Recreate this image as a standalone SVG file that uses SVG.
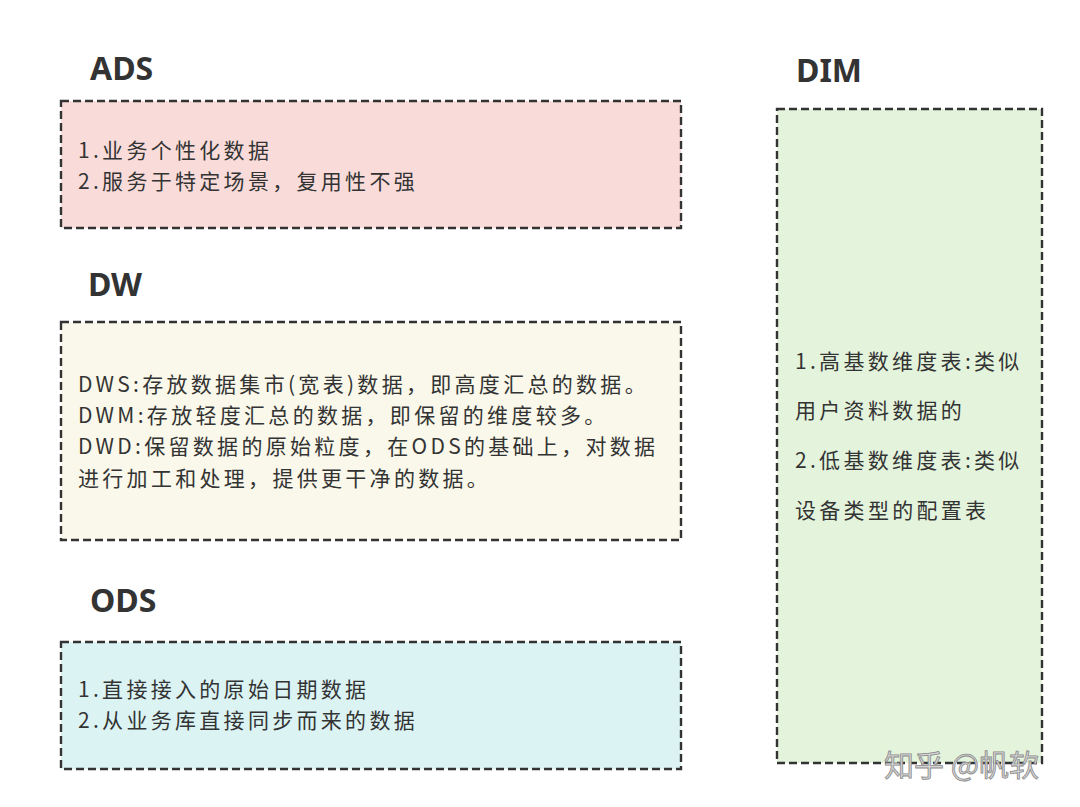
<svg xmlns="http://www.w3.org/2000/svg" width="1080" height="807" viewBox="0 0 1080 807">
<style>
.title{font-family:"Noto Sans","Open Sans","Noto Sans CJK SC",sans-serif;font-weight:bold;font-size:32px;fill:#333;}
.body{font-family:"Noto Sans CJK SC","Noto Sans",sans-serif;font-size:21px;letter-spacing:3.3px;fill:#333;}
.box{stroke:#333;stroke-width:2.4;stroke-dasharray:8 4;}
.wm{font-family:"Noto Sans CJK SC",sans-serif;font-size:30px;fill:#d4d4d4;stroke:#8a8a8a;stroke-width:0.8;}
</style>
<rect width="1080" height="807" fill="#ffffff"/>
<g id="ADS">
<text class="title" x="90" y="80">ADS</text>
<rect class="box" x="61" y="101" width="620" height="127" fill="#f9dcda"/>
<text class="body"><tspan x="78" y="158">1.业务个性化数据</tspan><tspan x="78" y="189">2.服务于特定场景，复用性不强</tspan></text>
</g>
<g id="DW">
<text class="title" x="88" y="296">DW</text>
<rect class="box" x="61" y="322" width="620" height="218" fill="#f9f8ea"/>
<text class="body"><tspan x="78" y="392">DWS:存放数据集市(宽表)数据，即高度汇总的数据。</tspan><tspan x="78" y="423">DWM:存放轻度汇总的数据，即保留的维度较多。</tspan><tspan x="78" y="454">DWD:保留数据的原始粒度，在ODS的基础上，对数据</tspan><tspan x="78" y="486">进行加工和处理，提供更干净的数据。</tspan></text>
</g>
<g id="ODS">
<text class="title" x="90" y="612">ODS</text>
<rect class="box" x="61" y="642" width="620" height="127" fill="#dcf3f3"/>
<text class="body"><tspan x="78" y="697">1.直接接入的原始日期数据</tspan><tspan x="78" y="728">2.从业务库直接同步而来的数据</tspan></text>
</g>
<g id="DIM">
<text class="title" x="796" y="82">DIM</text>
<rect class="box" x="777" y="109" width="265" height="654" fill="#e4f4dc"/>
<text class="body"><tspan x="795" y="369">1.高基数维度表:类似</tspan><tspan x="795" y="418">用户资料数据的</tspan><tspan x="795" y="468">2.低基数维度表:类似</tspan><tspan x="795" y="518">设备类型的配置表</tspan></text>
</g>
<g id="connectors"></g>
<text class="wm" x="884" y="776">知乎 @帆软</text>
</svg>
